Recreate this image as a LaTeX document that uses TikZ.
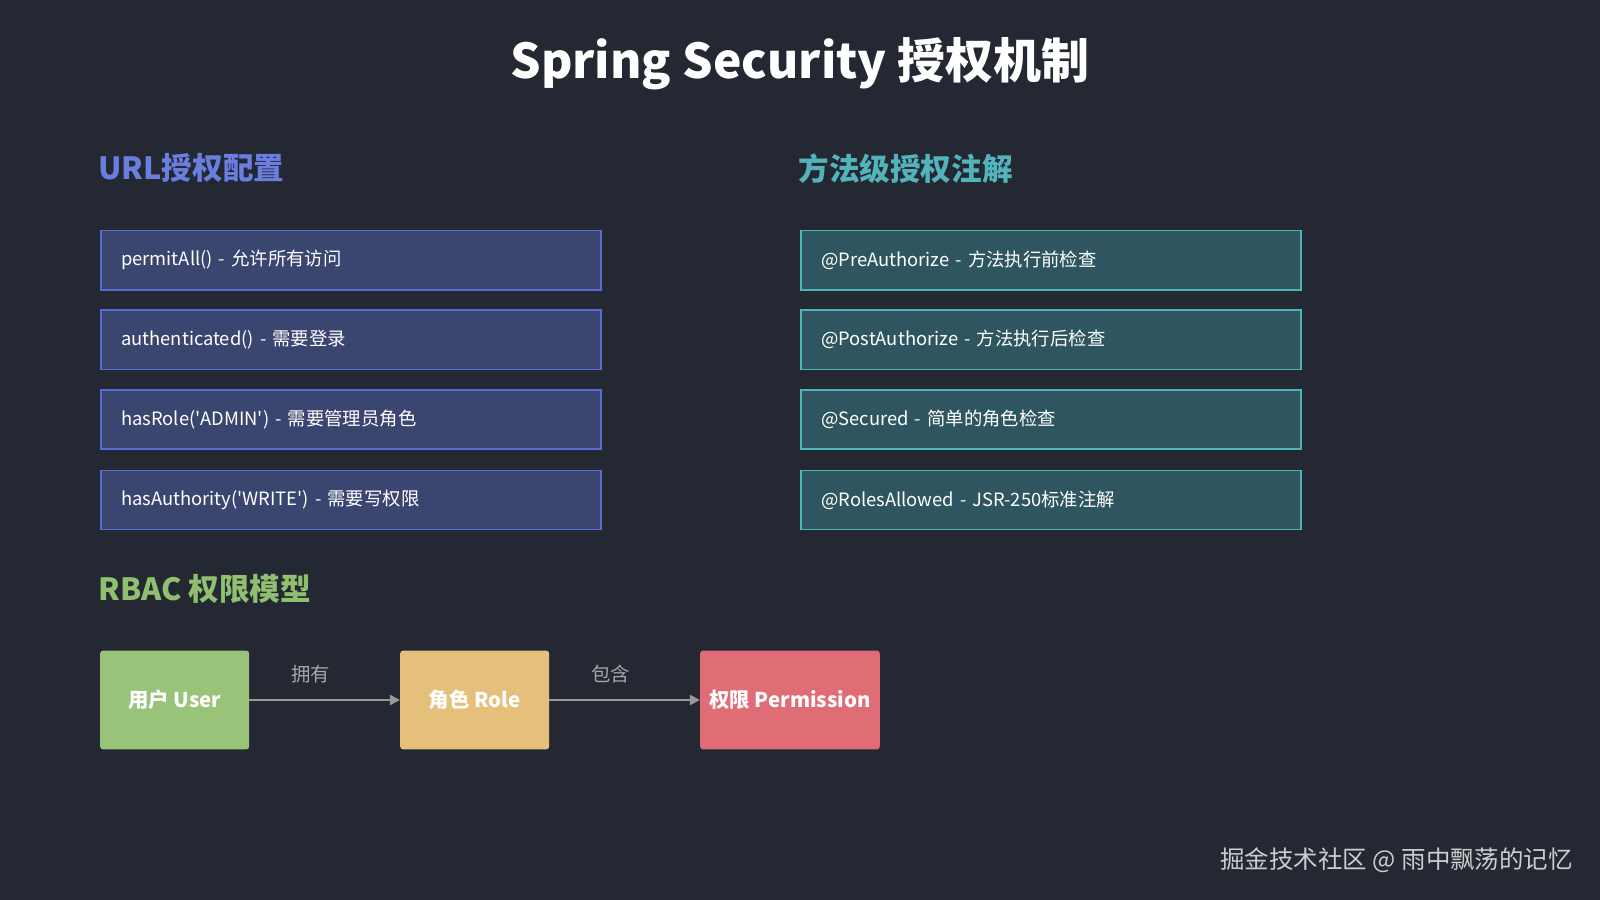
\documentclass[tikz,border=0pt]{standalone}
\usepackage{fontspec}
\setmainfont{Noto Sans CJK SC}
\usetikzlibrary{arrows.meta}
\definecolor{bg}{HTML}{232833}
\definecolor{bfill}{HTML}{3A4570}
\definecolor{bline}{HTML}{5B6BD6}
\definecolor{bhead}{HTML}{6A7EE0}
\definecolor{tfill}{HTML}{2F5660}
\definecolor{tline}{HTML}{4DB5B3}
\definecolor{thead}{HTML}{52B4BA}
\definecolor{ghead}{HTML}{8FBF6F}
\definecolor{ucol}{HTML}{98C379}
\definecolor{rcol}{HTML}{E5C07B}
\definecolor{pcol}{HTML}{E06C75}
\tikzset{
 lbox/.style={draw=bline,fill=bfill,line width=1.5pt,minimum width=490pt,minimum height=58pt,anchor=west,text=white,font=\fontsize{18}{22}\selectfont,align=left,text width=450pt,inner xsep=20pt},
 rbox/.style={lbox,draw=tline,fill=tfill},
 head/.style={anchor=west,font=\bfseries\fontsize{30}{36}\selectfont},
 rb/.style={rounded corners=3pt,minimum height=97pt,text=white,font=\bfseries\fontsize{20}{24}\selectfont,anchor=west},
 arr/.style={draw=gray!80,line width=2pt,-{Triangle[length=10pt,width=10pt]}},
 lab/.style={text=gray!70,font=\fontsize{19}{22}\selectfont}
}
\begin{document}
\begin{tikzpicture}[x=1pt,y=-1pt]
\fill[bg] (0,0) rectangle (1568,882);
\useasboundingbox (0,0) rectangle (1568,882);
\node[text=white,font=\bfseries\fontsize{47}{56}\selectfont] (title) at (784,62) {Spring Security 授权机制};
\node[head,text=bhead] (h1) at (93,165) {URL授权配置};
\node[head,text=thead] (h2) at (779,165) {方法级授权注解};
\node[head,text=ghead] (h3) at (93,577) {RBAC 权限模型};
\node[lbox] (l1) at (98,255) {permitAll() - 允许所有访问};
\node[lbox] (l2) at (98,333) {authenticated() - 需要登录};
\node[lbox] (l3) at (98,411) {hasRole(\textquotesingle ADMIN\textquotesingle) - 需要管理员角色};
\node[lbox] (l4) at (98,490) {hasAuthority(\textquotesingle WRITE\textquotesingle) - 需要写权限};
\node[rbox] (r1) at (784,255) {@PreAuthorize - 方法执行前检查};
\node[rbox] (r2) at (784,333) {@PostAuthorize - 方法执行后检查};
\node[rbox] (r3) at (784,411) {@Secured - 简单的角色检查};
\node[rbox] (r4) at (784,490) {@RolesAllowed - JSR-250标准注解};
\node[rb,fill=ucol,minimum width=146pt] (u) at (98,686) {用户 User};
\node[rb,fill=rcol,minimum width=146pt] (ro) at (392,686) {角色 Role};
\node[rb,fill=pcol,minimum width=176pt] (p) at (686,686) {权限 Permission};
\draw[arr] (u) -- node[lab,above=12pt,xshift=-14pt] {拥有} (ro);
\draw[arr] (ro) -- node[lab,above=12pt,xshift=-14pt] {包含} (p);
\node[anchor=east,text=gray!40,font=\fontsize{24}{28}\selectfont] (wm) at (1545,843) {掘金技术社区 @ 雨中飘荡的记忆};
\end{tikzpicture}
\end{document}
